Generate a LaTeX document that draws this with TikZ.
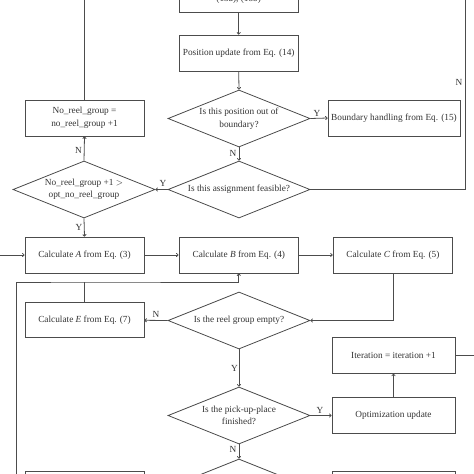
\documentclass[tikz,border=0pt]{standalone}
\usepackage{fontspec}
\setmainfont{Liberation Serif}
\usetikzlibrary{arrows.meta,shapes.geometric}
\begin{document}
\begin{tikzpicture}[x=1pt,y=-1pt,
 every node/.style={font=\fontsize{9.3}{12.5}\selectfont, text=black!80},
 box/.style={draw=black!70, line width=0.8pt, minimum width=119pt, minimum height=36pt, inner sep=0pt, align=center},
 dia/.style={draw=black!70, line width=0.8pt, diamond, minimum width=142pt, minimum height=57pt, inner sep=0pt},
 conn/.style={draw=black!70, line width=0.8pt},
 arr/.style={conn, -{To[length=2.5pt,width=4pt]}},
 lbl/.style={inner sep=0pt, align=center}
]
\useasboundingbox (0,0) rectangle (474,474);
\clip (0,0) rectangle (474,474);

% nodes
\node[box, minimum width=119.5pt] (top) at (238.7,-6) {};
\node[lbl] (toptext) at (238.7,-0.5) {(15a), (15b)};
\node[box, minimum width=119.5pt] (pos) at (238.7,53) {Position update from Eq. (14)};
\node[dia, label={[lbl]center:Is this position out of\\boundary?}] (d1) at (239,118.5) {};
\node[box, minimum width=132pt] (bound) at (394,118) {Boundary handling from Eq. (15)};
\node[dia, label={[lbl]center:Is this assignment feasible?}] (d2) at (239,189.5) {};
\node[dia, label={[lbl]center:No\_reel\_group +1 $>$\\opt\_no\_reel\_group}] (d3) at (84,189.5) {};
\node[box] (noreel) at (84.5,118) {No\_reel\_group =\\no\_reel\_group +1};
\node[box] (calcA) at (84.5,255) {Calculate \textit{A} from Eq. (3)};
\node[box, minimum width=119.7pt] (calcB) at (238.8,255) {Calculate \textit{B} from Eq. (4)};
\node[box, minimum width=119.7pt] (calcC) at (392.9,255) {Calculate \textit{C} from Eq. (5)};
\node[dia, label={[lbl]center:Is the reel group empty?}] (d4) at (239,320.5) {};
\node[box, minimum height=35pt] (calcE) at (84.5,320.3) {Calculate \textit{E} from Eq. (7)};
\node[dia, label={[lbl]center:Is the pick-up-place\\finished?}] (d5) at (239,415.5) {};
\node[box, minimum width=123pt, minimum height=35.5pt] (opt) at (393.5,415.5) {Optimization update};
\node[box, minimum width=123pt, minimum height=35.5pt] (iter) at (393.5,355.5) {Iteration = iteration +1};
\node[dia] (d6) at (239,487.5) {};
\node[box] (bl) at (84.5,489) {};
\node[box, minimum width=123pt] (br) at (393.5,489) {};

% free ends
\coordinate (ltop) at (84.5,-10);
\coordinate (rtop) at (465,-10);
\coordinate (lin) at (-5,255);
\coordinate (j1) at (84.5,282);
\coordinate (lb) at (16,480);
\coordinate (rit) at (480,355.5);

% connectors
\draw[arr] (top.south) -- (pos.north);
\draw[arr] (pos.south) -- (d1.north);
\draw[arr] (d1.east) -- (bound.west);
\draw[arr] (d1.south) -- (d2.north);
\draw[arr] (d2.west) -- (d3.east);
\draw[arr] (d3.north) -- (noreel.south);
\draw[conn] (noreel.north) -- (ltop);
\draw[conn] (d2.east) -| (rtop);
\draw[arr] (d3.south) -- (calcA.north);
\draw[arr] (lin) -- (calcA.west);
\draw[arr] (calcA.east) -- (calcB.west);
\draw[arr] (calcB.east) -- (calcC.west);
\draw[arr] (calcC.south) |- (d4.east);
\draw[arr] (d4.west) -- (calcE.east);
\draw[conn] (calcE.north) -- (j1);
\draw[arr] (lb) |- (j1) -| (calcB.south);
\draw[arr] (d4.south) -- (d5.north);
\draw[arr] (d5.east) -- (opt.west);
\draw[arr] (opt.north) -- (iter.south);
\draw[conn] (iter.east) -- (rit);
\draw[arr] (d5.south) -- (d6.north);

% labels
\node[lbl] (l1) at (317,113) {Y};
\node[lbl] (l2) at (233,153) {N};
\node[lbl] (l3) at (163,183) {Y};
\node[lbl] (l4) at (78.5,150) {N};
\node[lbl] (l5) at (79,227) {Y};
\node[lbl] (l6) at (156,314.5) {N};
\node[lbl] (l7) at (234.5,368) {Y};
\node[lbl] (l8) at (320,410) {Y};
\node[lbl] (l9) at (233,449) {N};
\node[lbl] (l10) at (459,82) {N};
\end{tikzpicture}
\end{document}
